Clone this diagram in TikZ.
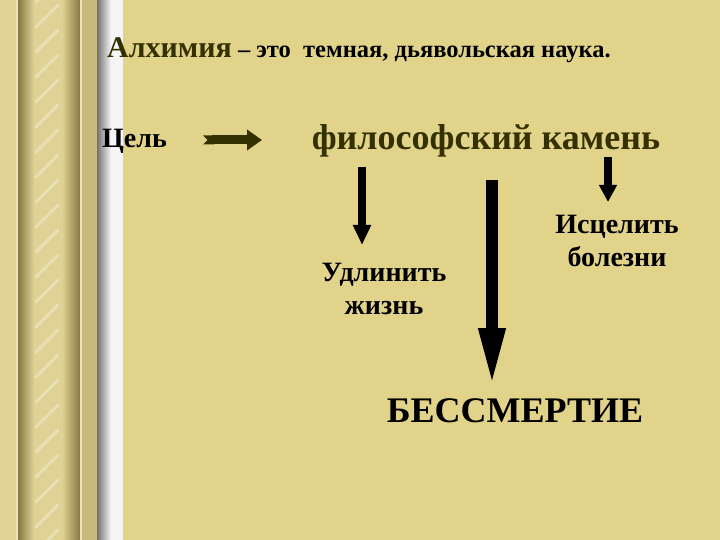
\documentclass[tikz,border=0pt]{standalone}
\usepackage{fontspec}
\setmainfont{Liberation Serif}
\usetikzlibrary{arrows.meta,positioning}
\definecolor{paper}{RGB}{226,211,139}
\definecolor{olivetext}{RGB}{52,48,0}
\definecolor{columnlight}{RGB}{224,210,148}
\definecolor{columnmid}{RGB}{200,185,125}
\definecolor{columndark}{RGB}{135,120,68}
\begin{document}
\begin{tikzpicture}[x=1pt, y=-1pt,
    txt/.style={font=\bfseries\fontsize{28}{33}\selectfont, align=center, inner sep=0pt},
    bigtxt/.style={font=\bfseries\fontsize{36}{40}\selectfont, inner sep=0pt},
    downarrow/.style={line width=8pt, -{Triangle[width=17pt,length=20pt]}},
]
    % Background
    \fill[paper] (0,0) rectangle (720,540);
    \useasboundingbox (0,0) rectangle (720,540);

    % Column
    \fill[columnlight] (0,0) rectangle (16,540);
    \fill[columnlight!60!white] (16,0) rectangle (18,540);
    \shade[left color=columndark, right color=columnlight] (18,0) rectangle (34,540);
    \fill[columnlight] (34,0) rectangle (62,540);
    \shade[left color=columnlight, right color=columndark] (62,0) rectangle (80,540);
    \fill[columnlight!60!white] (80,0) rectangle (82,540);
    \fill[columnmid] (82,0) rectangle (97,540);
    \begin{scope}
        \clip (32,0) rectangle (62,540);
        \foreach \y in {-20,5,...,560}
            \draw[white, opacity=0.3, line width=3pt, line cap=round] (36,\y+22) -- (58,\y);
    \end{scope}
    \shade[left color=black!55, right color=white] (97,0) rectangle (112,540);
    \fill[white!96!black] (112,0) rectangle (123,540);

    % Text
    \node[txt, anchor=base west, font=\bfseries\fontsize{24.5}{28}\selectfont] (title) at (107,58)
        {\textcolor{olivetext}{\fontsize{30}{34}\selectfont\bfseries Алхимия} – это\ \ темная, дьявольская наука.};
    \node[txt, anchor=west] (goal) at (102,141) {Цель};
    \node[bigtxt, text=olivetext] (stone) at (486,141) {философский камень};
    \node[txt] (lengthen) at (384,289) {Удлинить\\жизнь};
    \node[txt] (heal) at (617,241) {Исцелить\\болезни};
    \node[bigtxt] (immortal) at (515,411) {БЕССМЕРТИЕ};

    % Arrows
    \coordinate (goalend) at (203,140);
    \coordinate (stoneend) at (262,140);
    \coordinate (lenstart) at (362,167);
    \coordinate (lenend) at (362,245);
    \coordinate (healstart) at (608,157);
    \coordinate (healend) at (608,202);
    \coordinate (immstart) at (492,180);
    \coordinate (immend) at (492,388);
    \draw[line width=9pt, olivetext, {Triangle Cap[reversed]}-{Triangle[width=20pt,length=15pt]}] (goalend) -- (stoneend);
    \draw[downarrow] (lenstart) -- (lenend);
    \draw[downarrow, -{Triangle[width=17pt,length=17pt]}] (healstart) -- (healend);
    \draw[line width=12pt, -{Triangle[width=24pt,length=60pt]}] (immstart) -- (immend);
\end{tikzpicture}
\end{document}
